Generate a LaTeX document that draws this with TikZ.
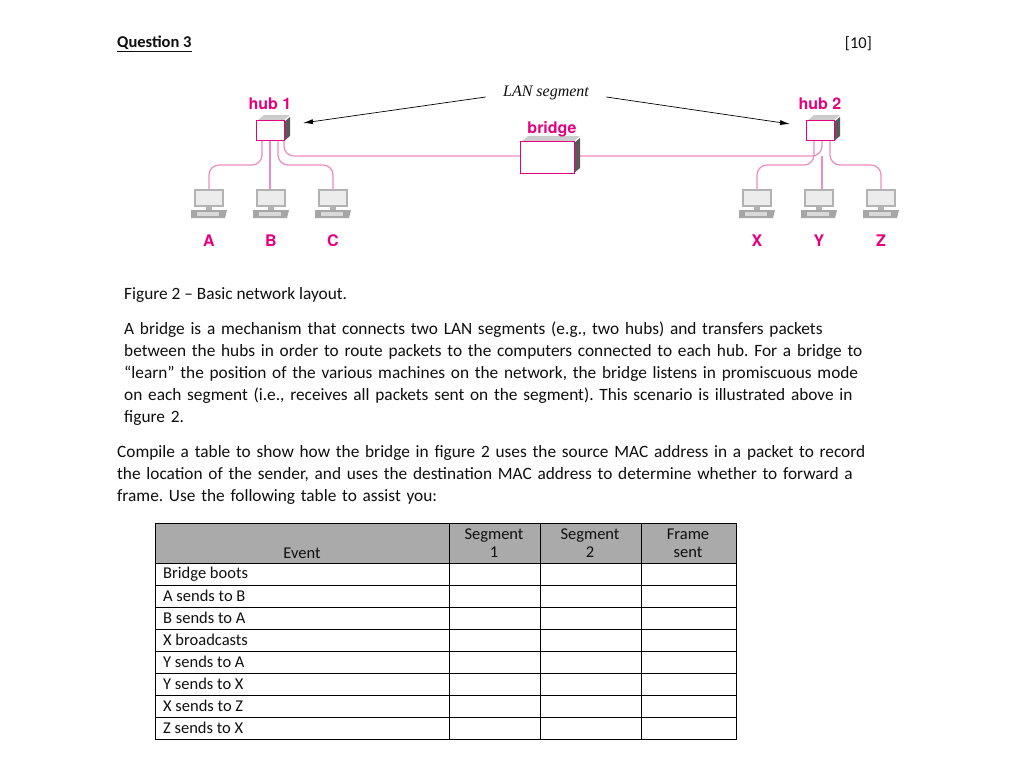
\documentclass[tikz,border=0pt]{standalone}
\usepackage{fontspec}
\setmainfont{Carlito}
\newfontfamily\hv{TeX Gyre Heros}
\newfontfamily\tm{Liberation Serif}
\usetikzlibrary{arrows.meta}
\frenchspacing
\definecolor{pk}{RGB}{230,0,126}
\definecolor{lpk}{RGB}{240,140,190}
\definecolor{hd}{RGB}{170,170,170}
\definecolor{tx}{RGB}{15,15,15}
\tikzset{
  lbl/.style={text=pk,font=\hv\bfseries\fontsize{16}{16}\selectfont},
  wire/.style={lpk,line width=1.2pt,rounded corners=10pt},
  body/.style={text=tx,font=\fontsize{17.3}{22}\selectfont,anchor=north west,align=left,inner sep=0},
  cell/.style={text=tx,font=\fontsize{16.5}{16}\selectfont,inner sep=0},
}
\newcommand{\hubbox}[3]{% name, x, y (top-left)
  \fill[gray!70!black] (#2+28,#3+2) -- (#2+34,#3-3) -- (#2+34,#3+16) -- (#2+28,#3+21) -- cycle;
  \fill[gray!40] (#2+2,#3) -- (#2+8,#3-5) -- (#2+34,#3-5) -- (#2+28,#3) -- cycle;
  \node[draw=pk,line width=1.4pt,fill=white,minimum width=28pt,minimum height=20pt,inner sep=0,anchor=north west] (#1) at (#2,#3) {};
}
\newcommand{\pc}[2]{% name, center x
  \node[draw=gray!60,fill=gray!15,line width=1.2pt,minimum width=28pt,minimum height=16pt,inner sep=0] (#1) at (#2,198) {};
  \fill[gray!60] (#2-3,206) rectangle (#2+3,211);
  \fill[gray!70] (#2-18,210) -- (#2+18,210) -- (#2+16,218) -- (#2-18,218) -- cycle;
  \fill[gray!30] (#2-12,212) rectangle (#2+10,216);
}
\begin{document}
\begin{tikzpicture}[x=1pt,y=-1pt]
\useasboundingbox[fill=white] (0,0) rectangle (1014,771);
\node[anchor=west,text=tx,font=\bfseries\fontsize{16.5}{16}\selectfont,inner sep=0] (q) at (117,44) {\underline{Question 3}};
\node[anchor=east,text=tx,font=\fontsize{16.5}{16}\selectfont,inner sep=0] (m) at (872,44) {[10]};
\draw[wire] (262,140) -- (262,165) -- (209,165) -- (209,190);
\draw[wire] (270,140) -- (270,190);
\draw[wire] (278,140) -- (278,165) -- (333,165) -- (333,190);
\draw[wire] (284,140) -- (284,156) -- (520,156);
\draw[wire] (576,156) -- (822,156) -- (822,140);
\draw[wire] (830,140) -- (830,165) -- (881,165) -- (881,190);
\draw[wire] (822,156) -- (822,190);
\draw[wire] (814,140) -- (814,165) -- (757,165) -- (757,190);
\hubbox{hub1}{256}{120}
\hubbox{hub2}{806}{120}
\fill[gray!70!black] (574,143) -- (580,138) -- (580,168) -- (574,173) -- cycle;
\fill[gray!40] (522,141) -- (528,136) -- (580,136) -- (574,141) -- cycle;
\node[draw=pk,line width=1.4pt,fill=white,minimum width=54pt,minimum height=32pt,inner sep=0,anchor=north west] (br) at (520,141) {};
\node[lbl] (l1) at (270,104) {hub 1};
\node[lbl] (l2) at (820,104) {hub 2};
\node[lbl] (lb) at (552,129) {bridge};
\node[font=\tm\itshape\fontsize{16}{16}\selectfont,text=tx] (lan) at (546,93) {LAN segment};
\draw[-{Latex[length=10pt,width=5pt]},line width=0.7pt] (lan.west)++(-14,4) coordinate (s1) -- (303,123);
\draw[-{Latex[length=10pt,width=5pt]},line width=0.7pt] (lan.east)++(14,4) coordinate (s2) -- (790,124);
\pc{pa}{209}\pc{pb}{271}\pc{pcc}{333}\pc{px}{757}\pc{py}{819}\pc{pz}{881}
\foreach \t/\x in {A/209,B/271,C/333,X/757,Y/819,Z/881}
  \node[lbl] (n\t) at (\x,241) {\t};
\node[body] (cap) at (124,287) {Figure 2 -- Basic network layout.};
\node[body,text width=780pt] (p1) at (124,322) {A bridge is a mechanism that connects two LAN segments (e.g., two hubs) and transfers packets\\between the hubs in order to route packets to the computers connected to each hub. For a bridge to\\“learn” the position of the various machines on the network, the bridge listens in promiscuous mode\\on each segment (i.e., receives all packets sent on the segment). This scenario is illustrated above in\\figure 2.};
\node[body,text width=800pt] (p2) at (117,445) {Compile a table to show how the bridge in figure 2 uses the source MAC address in a packet to record\\the location of the sender, and uses the destination MAC address to determine whether to forward a\\frame. Use the following table to assist you:};
\fill[hd] (155,523) rectangle (736,563);
\draw[line width=1pt] (155,523) rectangle (736,739);
\foreach \y in {563,585,607,629,651,673,695,717} \draw[line width=0.8pt] (155,\y) -- (736,\y);
\foreach \x in {449,540,641} \draw[line width=0.8pt] (\x,523) -- (\x,739);
\node[cell] (h0) at (302,553) {Event};
\node[cell,align=center,font=\fontsize{16.5}{18}\selectfont] (h1) at (494,543) {Segment\\1};
\node[cell,align=center,font=\fontsize{16.5}{18}\selectfont] (h2) at (590,543) {Segment\\2};
\node[cell,align=center,font=\fontsize{16.5}{18}\selectfont] (h3) at (688,543) {Frame\\sent};
\foreach \t [count=\i from 0] in {Bridge boots,A sends to B,B sends to A,X broadcasts,Y sends to A,Y sends to X,X sends to Z,Z sends to X}
  \node[cell,anchor=west] (r\i) at (163,574+22*\i) {\t};
\end{tikzpicture}
\end{document}
